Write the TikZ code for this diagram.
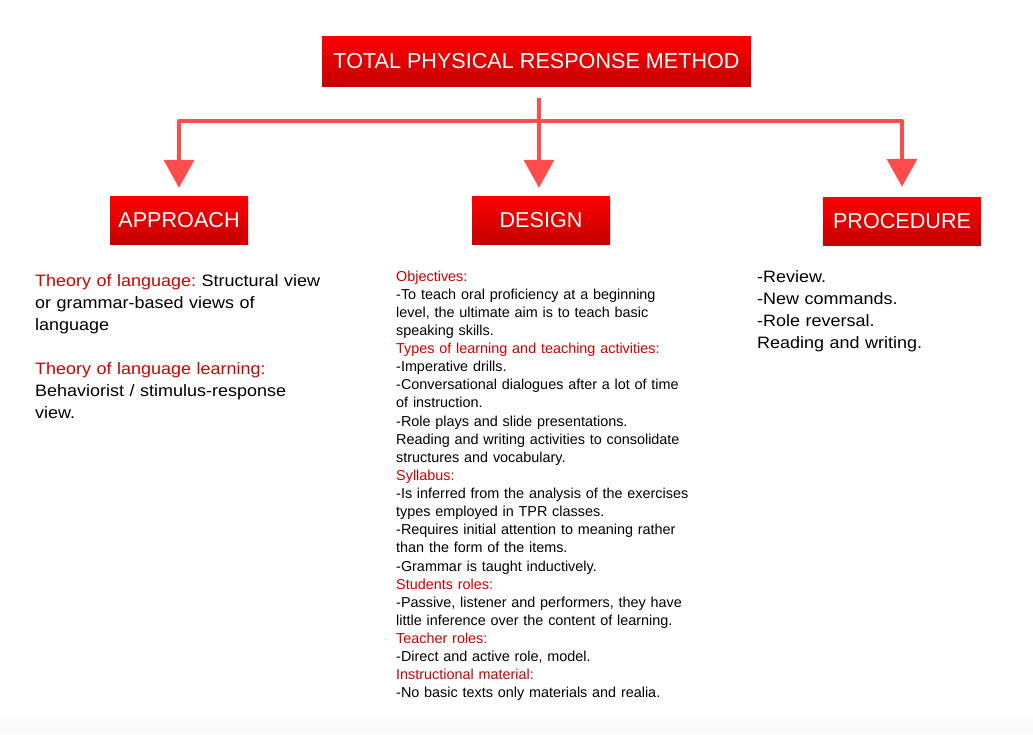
\documentclass[tikz,border=0pt]{standalone}
\usepackage{fontspec}
\setmainfont{Liberation Sans}
\newfontfamily\widefont[FakeStretch=1.09]{Liberation Sans}
\usetikzlibrary{arrows.meta}
\definecolor{boxtop}{RGB}{255,0,0}
\definecolor{boxbot}{RGB}{196,0,0}
\definecolor{labred}{RGB}{204,0,0}
\definecolor{arrowred}{RGB}{255,77,77}
\definecolor{bandgray}{RGB}{249,249,249}
\tikzset{
  headbox/.style={rectangle, inner sep=0pt, text=white, top color=boxtop, bottom color=boxbot,
    font=\fontsize{21.6}{24}\selectfont, text depth=0pt},
  conn/.style={draw=arrowred, line width=4pt, line join=round,
    -{Triangle[length=28pt,width=30pt]}},
  bodytext/.style={anchor=base west, inner sep=0pt, align=left},
}
\begin{document}
\begin{tikzpicture}[x=1pt,y=-1pt]
\useasboundingbox (0,0) rectangle (1033,734);
\fill[bandgray] (0,718) rectangle (1033,734);

\node[headbox, minimum width=429pt, minimum height=50pt] (title) at (536.5,61) {TOTAL PHYSICAL RESPONSE METHOD};
\node[headbox, minimum width=138pt, minimum height=48pt] (approach) at (179,220) {APPROACH};
\node[headbox, minimum width=138pt, minimum height=48pt] (design) at (541,220) {DESIGN};
\node[headbox, minimum width=158pt, minimum height=48pt] (procedure) at (902,221) {PROCEDURE};

\coordinate (stub) at (539,98);
\coordinate (hub) at (539,121);
\draw[conn, shorten >=8pt] (stub) -- (hub) -- (hub |- design.north);
\draw[conn, shorten >=8pt] (hub) -| (approach.north);
\draw[conn, shorten >=10pt] (hub) -| (procedure.north);

\node[bodytext, text width=320pt, font=\widefont\fontsize{16.5}{22}\selectfont] (apptext) at (35,286)
{{\color{labred}Theory of language:}\ Structural view\\
or grammar-based views of\\
language\\[22pt]
{\color{labred}Theory of language learning:}\\
Behaviorist / stimulus-response\\
view.};

\node[bodytext, text width=320pt, font=\fontsize{14.4}{18.13}\selectfont] (destext) at (396,281)
{{\color{labred}Objectives:}\\
-To teach oral proficiency at a beginning\\
level, the ultimate aim is to teach basic\\
speaking skills.\\
{\color{labred}Types of learning and teaching activities:}\\
-Imperative drills.\\
-Conversational dialogues after a lot of time\\
of instruction.\\
-Role plays and slide presentations.\\
Reading and writing activities to consolidate\\
structures and vocabulary.\\
{\color{labred}Syllabus:}\\
-Is inferred from the analysis of the exercises\\
types employed in TPR classes.\\
-Requires initial attention to meaning rather\\
than the form of the items.\\
-Grammar is taught inductively.\\
{\color{labred}Students roles:}\\
-Passive, listener and performers, they have\\
little inference over the content of learning.\\
{\color{labred}Teacher roles:}\\
-Direct and active role, model.\\
{\color{labred}Instructional material:}\\
-No basic texts only materials and realia.};

\node[bodytext, text width=260pt, font=\widefont\fontsize{16.5}{22}\selectfont] (proctext) at (757,282)
{-Review.\\
-New commands.\\
-Role reversal.\\
Reading and writing.};
\end{tikzpicture}
\end{document}
